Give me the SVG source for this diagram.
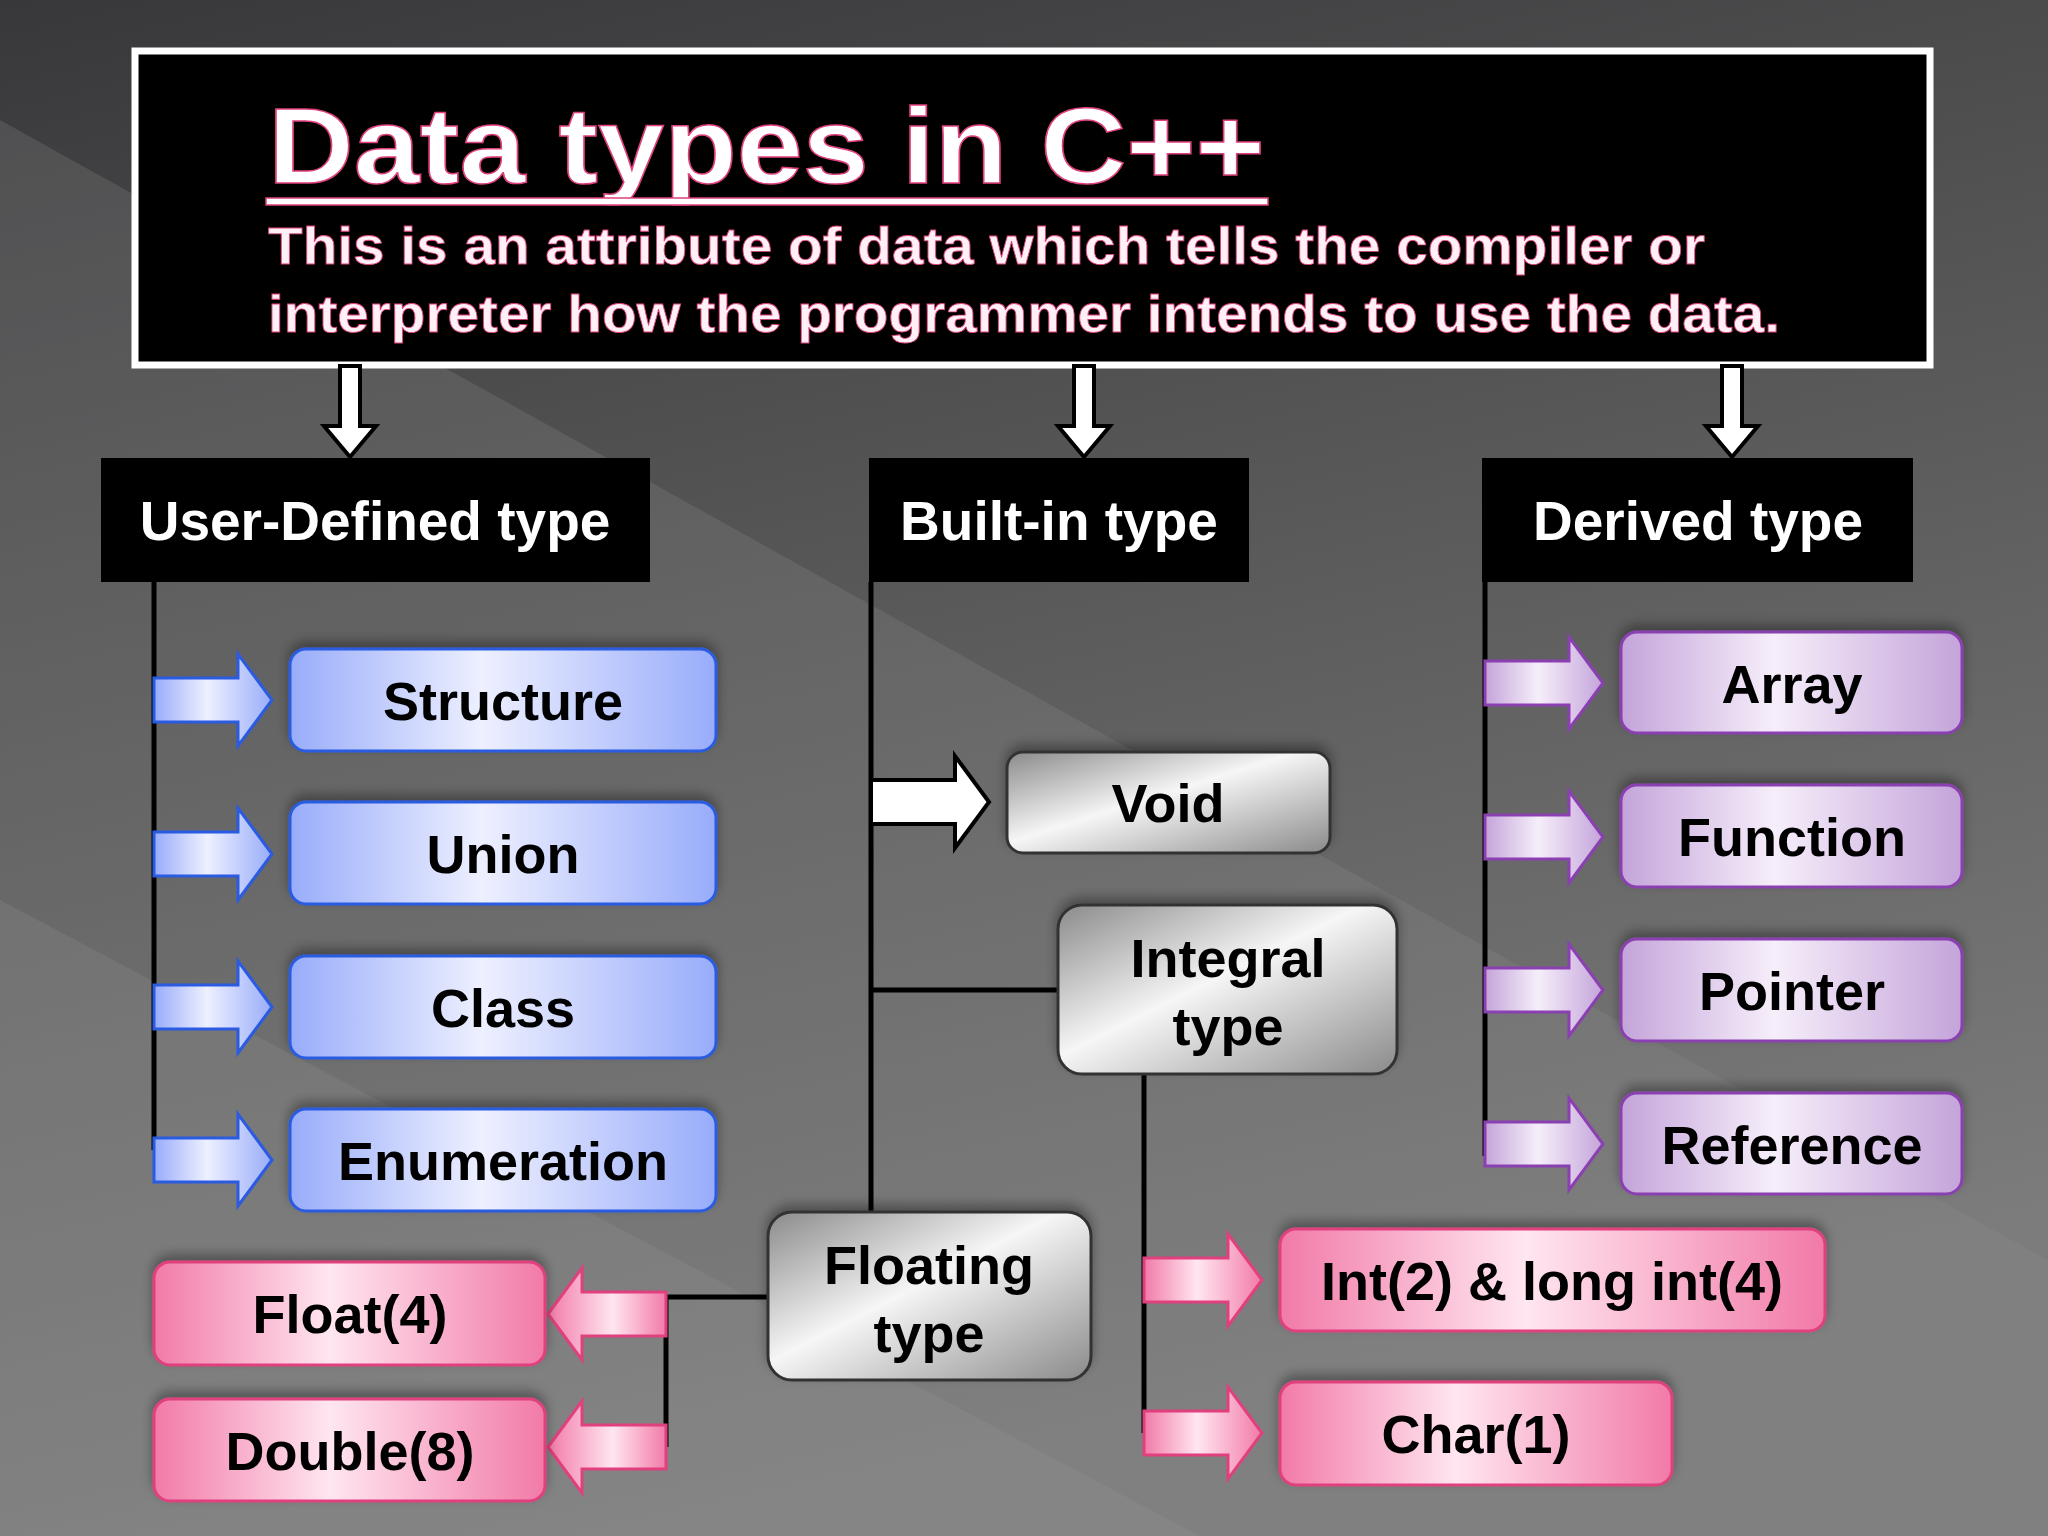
<svg xmlns="http://www.w3.org/2000/svg" width="2048" height="1536" viewBox="0 0 2048 1536">
<defs>
<linearGradient id="bg" x1="0" y1="0" x2="0.3" y2="1"><stop offset="0" stop-color="#38383a"/><stop offset="1" stop-color="#7c7c7c"/></linearGradient>
<linearGradient id="gb" x1="0" y1="0" x2="1" y2="0"><stop offset="0" stop-color="#98acfa"/><stop offset="0.45" stop-color="#eef0ff"/><stop offset="1" stop-color="#98acfa"/></linearGradient>
<linearGradient id="gp" x1="0" y1="0" x2="1" y2="0"><stop offset="0" stop-color="#c4a4da"/><stop offset="0.45" stop-color="#f6eefa"/><stop offset="1" stop-color="#c4a4da"/></linearGradient>
<linearGradient id="gk" x1="0" y1="0" x2="1" y2="0"><stop offset="0" stop-color="#f27aa8"/><stop offset="0.45" stop-color="#ffe6f0"/><stop offset="1" stop-color="#f27aa8"/></linearGradient>
<linearGradient id="gg" x1="0" y1="0" x2="1" y2="1"><stop offset="0" stop-color="#8a8a8a"/><stop offset="0.45" stop-color="#f6f6f6"/><stop offset="1" stop-color="#8a8a8a"/></linearGradient>
<filter id="sh" x="-10%" y="-20%" width="130%" height="150%"><feDropShadow dx="0" dy="-6" stdDeviation="6" flood-color="#000" flood-opacity="0.35"/></filter>
<path id="ar" d="M0,-22 H84 V-46 L118,0 L84,46 V22 H0 Z"/>
<path id="dn" d="M-10,0 V60 H-26 L0,91 L26,60 H10 V0 Z"/>
</defs>
<style>
.hd{fill:#000}
.ht{font:bold 55px "Liberation Sans",Arial,sans-serif;fill:#fff;text-anchor:middle}
.nt{font:bold 54px "Liberation Sans",Arial,sans-serif;fill:#000;text-anchor:middle}
.b{fill:url(#gb);stroke:#2a5be0;stroke-width:3}
.p{fill:url(#gp);stroke:#8a40b0;stroke-width:3}
.k{fill:url(#gk);stroke:#e0407e;stroke-width:3}
.g{fill:url(#gg);stroke:#333;stroke-width:3}
.ln{stroke:#000;stroke-width:5;fill:none}
.wd{fill:#fff;stroke:#000;stroke-width:4}
</style>
<rect width="2048" height="1536" fill="url(#bg)"/>
<polygon points="0,120 2048,1260 2048,1536 0,1536" fill="#8a8a8a" opacity="0.25"/>
<polygon points="0,900 1200,1536 0,1536" fill="#999" opacity="0.2"/>

<g id="title">
<rect x="135" y="51" width="1795" height="314" fill="#000" stroke="#fff" stroke-width="7"/>
<text x="268" y="183" textLength="997" lengthAdjust="spacingAndGlyphs" font-family="Liberation Sans,Arial,sans-serif" font-weight="bold" font-size="108" fill="#fff" stroke="#e0407e" stroke-width="1.5">Data types in C++</text>
<rect x="266" y="198" width="1002" height="7" fill="#fff" stroke="#e0407e" stroke-width="1.5"/>
<text font-family="Liberation Sans,Arial,sans-serif" font-weight="bold" font-size="51" fill="#fff0f6" stroke="#e0407e" stroke-width="0.8"><tspan x="268" y="264" textLength="1437" lengthAdjust="spacingAndGlyphs">This is an attribute of data which tells the compiler or</tspan></text>
<text font-family="Liberation Sans,Arial,sans-serif" font-weight="bold" font-size="51" fill="#fff0f6" stroke="#e0407e" stroke-width="0.8"><tspan x="268" y="332" textLength="1512" lengthAdjust="spacingAndGlyphs">interpreter how the programmer intends to use the data.</tspan></text>
</g>

<g id="connectors">
<use href="#dn" x="350" y="366" class="wd"/>
<use href="#dn" x="1084" y="366" class="wd"/>
<use href="#dn" x="1732" y="366" class="wd"/>
<path class="ln" d="M154,582 V1150"/>
<path class="ln" d="M871,582 V1212 M871,990 H1058"/>
<path class="ln" d="M1144,1074 V1433"/>
<path class="ln" d="M768,1297 H666 V1447"/>
<path class="ln" d="M1485,582 V1156"/>
<use href="#ar" x="154" y="700" class="b"/>
<use href="#ar" x="154" y="854" class="b"/>
<use href="#ar" x="154" y="1007" class="b"/>
<use href="#ar" x="154" y="1160" class="b"/>
<use href="#ar" x="871" y="802" class="wd"/>
<use href="#ar" x="1144" y="1280" class="k"/>
<use href="#ar" x="1144" y="1433" class="k"/>
<use href="#ar" transform="translate(666,1314) scale(-1,1)" class="k"/>
<use href="#ar" transform="translate(666,1447) scale(-1,1)" class="k"/>
<use href="#ar" x="1485" y="683" class="p"/>
<use href="#ar" x="1485" y="837" class="p"/>
<use href="#ar" x="1485" y="990" class="p"/>
<use href="#ar" x="1485" y="1144" class="p"/>
</g>

<g id="userdef"><rect class="hd" x="101" y="458" width="549" height="124"/><text class="ht" x="375" y="540">User-Defined type</text></g>
<g id="builtin"><rect class="hd" x="869" y="458" width="380" height="124"/><text class="ht" x="1059" y="540">Built-in type</text></g>
<g id="derived"><rect class="hd" x="1482" y="458" width="431" height="124"/><text class="ht" x="1698" y="540">Derived type</text></g>

<g id="structure" filter="url(#sh)"><rect class="b" x="290" y="649" width="426" height="102" rx="16"/><text class="nt" x="503" y="720">Structure</text></g>
<g id="union" filter="url(#sh)"><rect class="b" x="290" y="802" width="426" height="102" rx="16"/><text class="nt" x="503" y="873">Union</text></g>
<g id="class" filter="url(#sh)"><rect class="b" x="290" y="956" width="426" height="102" rx="16"/><text class="nt" x="503" y="1027">Class</text></g>
<g id="enumeration" filter="url(#sh)"><rect class="b" x="290" y="1109" width="426" height="102" rx="16"/><text class="nt" x="503" y="1180">Enumeration</text></g>

<g id="void" filter="url(#sh)"><rect class="g" x="1007" y="752" width="323" height="101" rx="16"/><text class="nt" x="1168" y="822">Void</text></g>
<g id="integral" filter="url(#sh)"><rect class="g" x="1058" y="905" width="339" height="169" rx="24"/><text class="nt" x="1228" y="977">Integral</text><text class="nt" x="1228" y="1045">type</text></g>
<g id="floating" filter="url(#sh)"><rect class="g" x="768" y="1212" width="323" height="168" rx="24"/><text class="nt" x="929" y="1284">Floating</text><text class="nt" x="929" y="1352">type</text></g>

<g id="int" filter="url(#sh)"><rect class="k" x="1280" y="1229" width="545" height="102" rx="16"/><text class="nt" x="1552" y="1300">Int(2) &amp; long int(4)</text></g>
<g id="char" filter="url(#sh)"><rect class="k" x="1280" y="1382" width="392" height="103" rx="16"/><text class="nt" x="1476" y="1453">Char(1)</text></g>
<g id="float" filter="url(#sh)"><rect class="k" x="154" y="1262" width="391" height="103" rx="16"/><text class="nt" x="350" y="1333">Float(4)</text></g>
<g id="double" filter="url(#sh)"><rect class="k" x="154" y="1399" width="391" height="102" rx="16"/><text class="nt" x="350" y="1470">Double(8)</text></g>

<g id="array" filter="url(#sh)"><rect class="p" x="1621" y="632" width="341" height="101" rx="16"/><text class="nt" x="1792" y="703">Array</text></g>
<g id="function" filter="url(#sh)"><rect class="p" x="1621" y="785" width="341" height="102" rx="16"/><text class="nt" x="1792" y="856">Function</text></g>
<g id="pointer" filter="url(#sh)"><rect class="p" x="1621" y="939" width="341" height="102" rx="16"/><text class="nt" x="1792" y="1010">Pointer</text></g>
<g id="reference" filter="url(#sh)"><rect class="p" x="1621" y="1093" width="341" height="101" rx="16"/><text class="nt" x="1792" y="1164">Reference</text></g>
</svg>
